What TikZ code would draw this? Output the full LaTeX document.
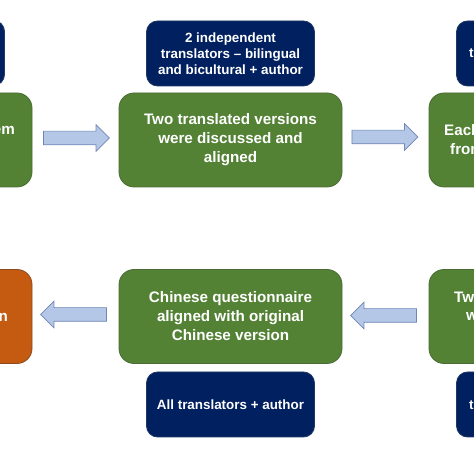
\documentclass[tikz,border=0pt]{standalone}
\usepackage{fontspec}
\setmainfont{Liberation Sans}
\usetikzlibrary{shapes.arrows,calc}
\definecolor{stepgreen}{HTML}{548235}
\definecolor{stepgreenline}{HTML}{4A6B33}
\definecolor{teamblue}{HTML}{002060}
\definecolor{teamblueline}{HTML}{1F3864}
\definecolor{finalorange}{HTML}{C55A11}
\definecolor{finalorangeline}{HTML}{8C4A22}
\definecolor{arrowfill}{HTML}{B4C7E7}
\definecolor{arrowline}{HTML}{6F86B6}

\begin{document}
\begin{tikzpicture}[x=1pt,y=1pt,
    stepbox/.style={rectangle,rounded corners=15pt,fill=stepgreen,draw=stepgreenline,line width=0.8pt,
        minimum width=223pt,minimum height=94pt,text=white,align=center,
        font=\bfseries\fontsize{15.2}{19}\selectfont},
    finalbox/.style={stepbox,fill=finalorange,draw=finalorangeline},
    teambox/.style={rectangle,rounded corners=11pt,fill=teamblue,draw=teamblueline,line width=0.8pt,
        minimum width=168pt,minimum height=65pt,text=white,align=center,
        font=\bfseries\fontsize{13.4}{16}\selectfont},
    steptext/.style={inner sep=0pt,text=white,font=\bfseries\fontsize{15.2}{19}\selectfont},
    teamtext/.style={inner sep=0pt,text=white,font=\bfseries\fontsize{13.4}{16}\selectfont},
    flowarrow/.style={single arrow,fill=arrowfill,draw=arrowline,line width=0.7pt,
        single arrow head extend=6.5pt,inner xsep=0pt,inner ysep=6.5pt,
        minimum width=26pt,minimum height=66pt}]
    \useasboundingbox (0,0) rectangle (474,474);
    \clip (0,0) rectangle (474,474);
    % top row
    \node[teambox] (teamA) at (-79.5,421) {};
    \node[stepbox] (forward) at (-79.5,334) {};
    \node[teambox] (teamB) at (230.5,420.5) {2 independent\\translators -- bilingual\\and bicultural + author};
    \node[stepbox] (merge) at (230.5,334) {Two translated versions\\were discussed and\\aligned};
    \node[teambox] (teamC) at (540.5,420.5) {};
    \node[stepbox] (back) at (540.5,334) {};
    % bottom row
    \node[finalbox] (final) at (-79.5,157.5) {};
    \node[stepbox] (check) at (230.5,157.5) {Chinese questionnaire\\aligned with original\\Chinese version};
    \node[teambox] (teamD) at (230.5,69.5) {All translators + author};
    \node[stepbox] (compare) at (540.5,157.5) {};
    \node[teambox] (teamE) at (540.5,69.5) {};
    % text cut by the frame
    \node[steptext,anchor=east] (forwardtxt) at (15,344) {em};
    \node[steptext,anchor=west] (backtxtA) at (444,344) {Each};
    \node[steptext,anchor=west] (backtxtB) at (450,325) {from};
    \node[steptext,anchor=west] (comparetxtA) at (454,177) {Two};
    \node[steptext,anchor=west] (comparetxtB) at (466,158) {w};
    \node[steptext,anchor=east] (finaltxt) at (8,157) {n};
    \node[teamtext,anchor=west] (teamCtxt) at (469,421) {t};
    \node[teamtext,anchor=west] (teamEtxt) at (469,69) {t};
    % arrows
    \node[flowarrow] (arrA) at ($(forward.east)!0.5!(merge.west)+(-2.5,2)$) {};
    \node[flowarrow] (arrB) at ($(merge.east)!0.5!(back.west)+(-4,3)$) {};
    \node[flowarrow,shape border rotate=180] (arrC) at ($(compare.west)!0.5!(check.east)+(1.5,1)$) {};
    \node[flowarrow,shape border rotate=180] (arrD) at ($(check.west)!0.5!(final.east)+(1.5,2)$) {};
\end{tikzpicture}
\end{document}
